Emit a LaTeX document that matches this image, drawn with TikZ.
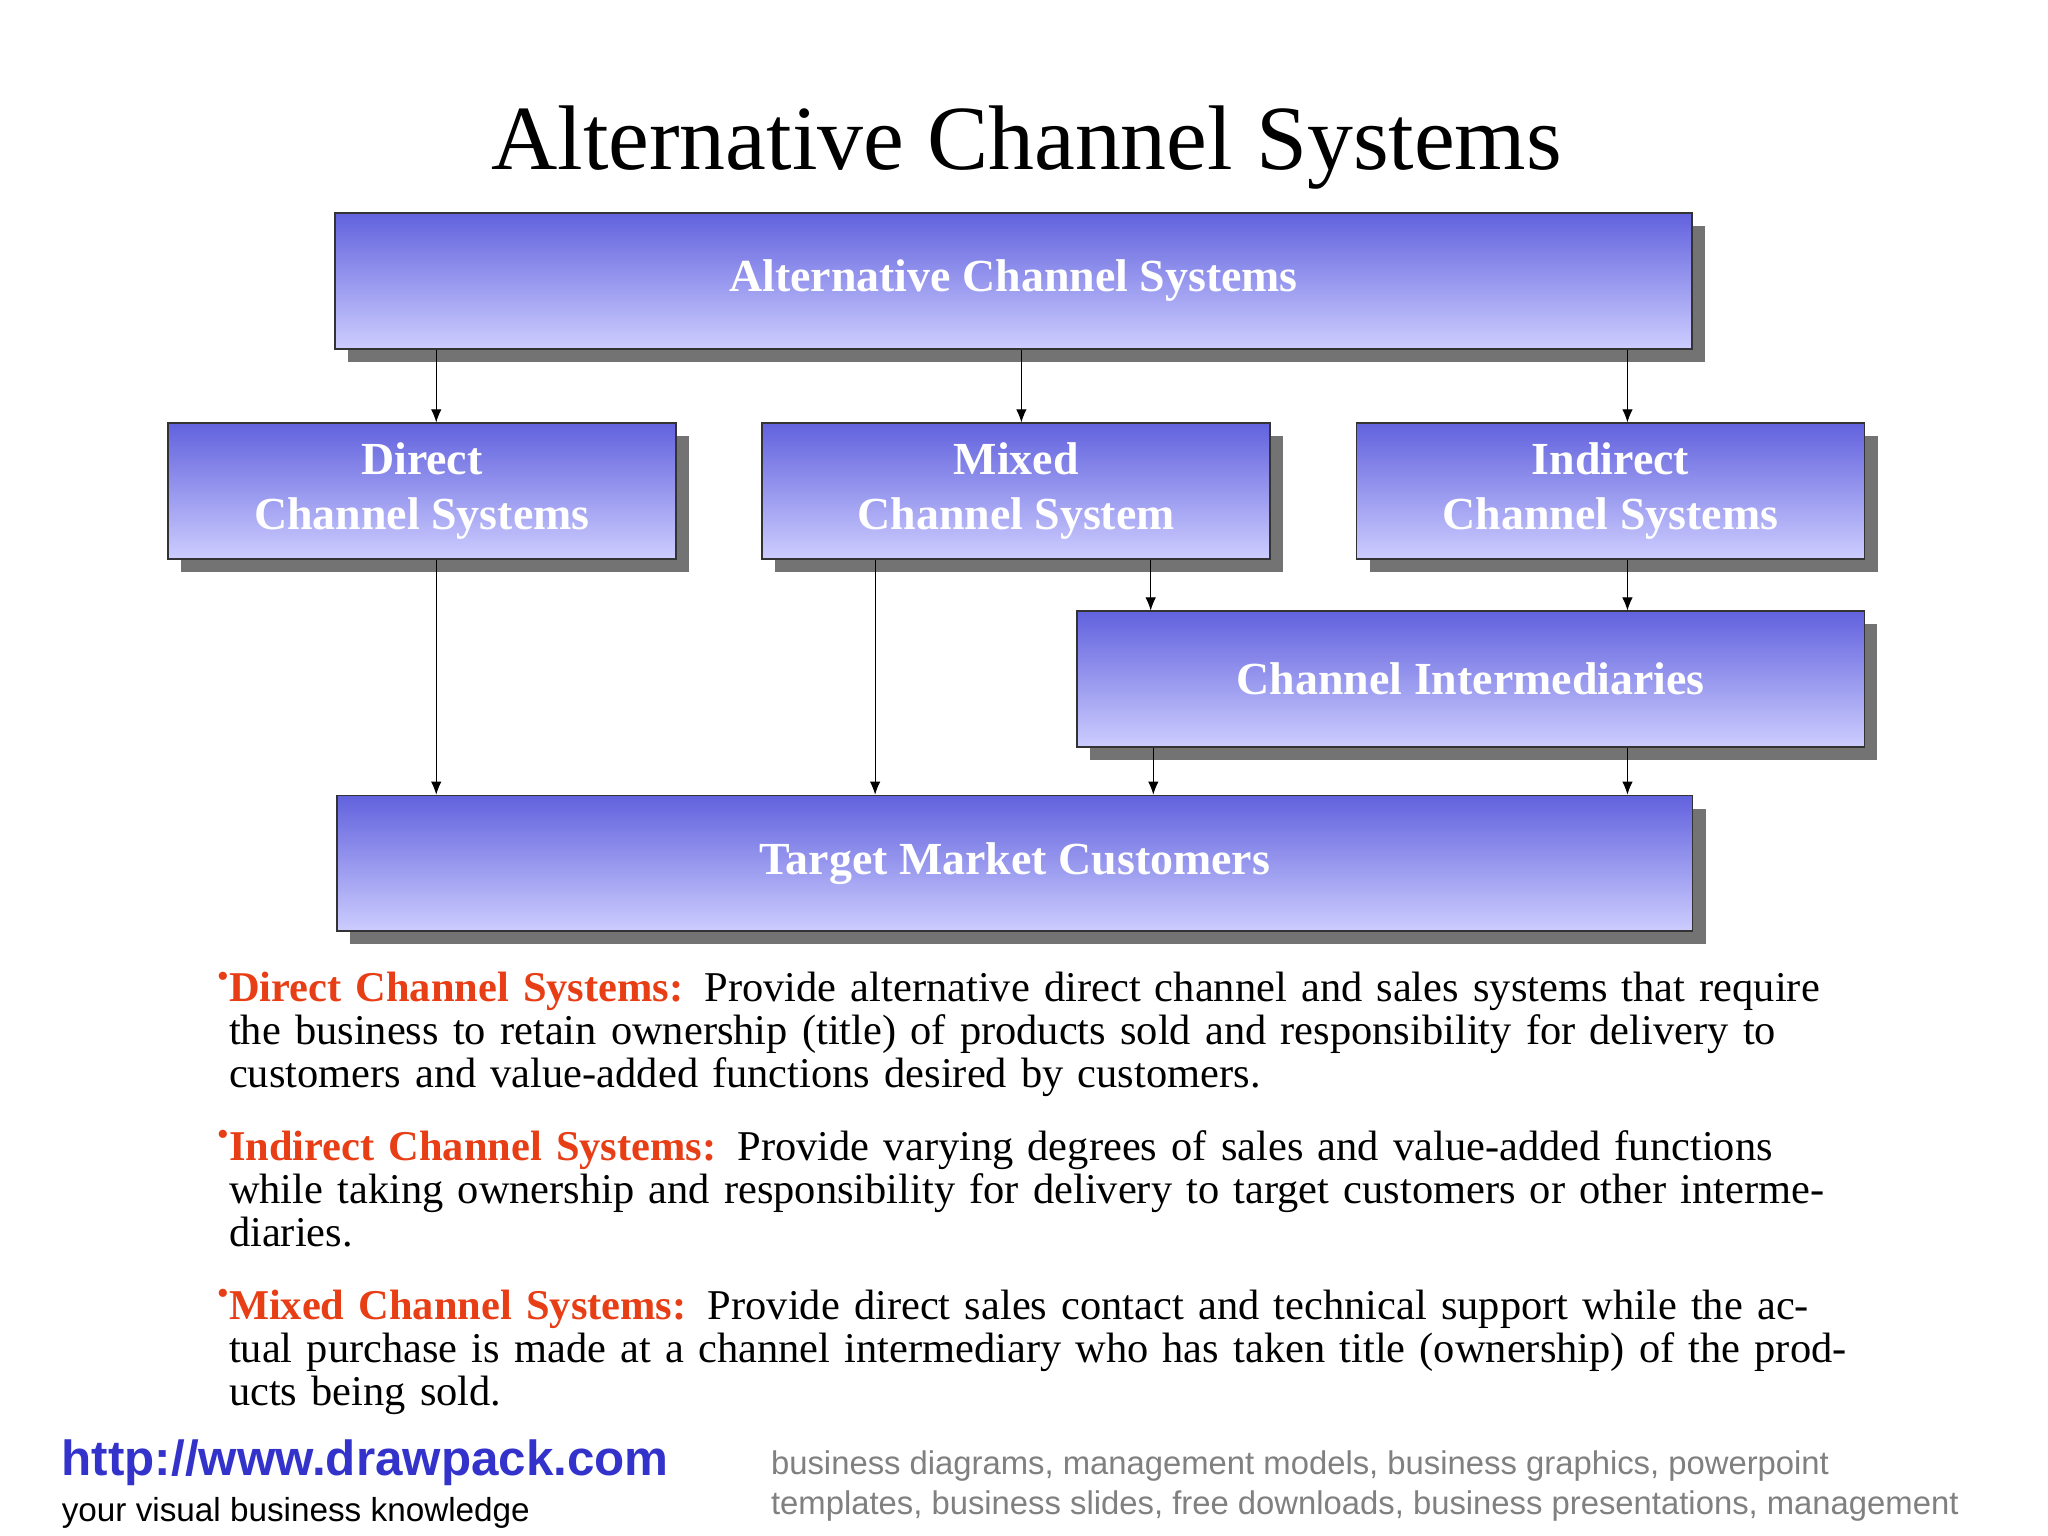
\documentclass[tikz,border=0pt]{standalone}
\usepackage{fontspec}
\setmainfont{Liberation Serif}
\newfontfamily\footsans{Liberation Sans}
\usetikzlibrary{arrows.meta,positioning,shadows}
\definecolor{boxtop}{RGB}{98,98,222}
\definecolor{boxbot}{RGB}{205,205,255}
\definecolor{keyred}{RGB}{232,62,22}
\definecolor{linkblue}{RGB}{51,51,204}
\definecolor{footgray}{RGB}{128,128,128}
\tikzset{
  >={Latex[width=1.6mm,length=2mm]},
  chbox/.style={draw=black!80, line width=0.7pt, top color=boxtop, bottom color=boxbot,
    font=\fontsize{20}{24}\selectfont\bfseries, text=white, align=center,
    drop shadow={shadow xshift=2mm, shadow yshift=-2mm, fill=black!55, opacity=1}},
  para/.style={anchor=north west, text width=24.9cm, align=left, inner sep=0pt,
    font=\fontsize{18.5}{18.8}\selectfont},
  dot/.style={anchor=north east, inner sep=0pt, text=keyred, font=\fontsize{18.5}{18.8}\selectfont},
}
\newcommand{\key}[1]{\textcolor{keyred}{\bfseries #1}}
\begin{document}
\begin{tikzpicture}[x=0.02cm,y=-0.02cm]
  \useasboundingbox[fill=white] (0,0) rectangle (1568,1176);
  \node[font=\fontsize{40}{44}\selectfont] (title) at (786,113) {Alternative Channel Systems};
  % boxes
  \node[chbox, minimum width=20.78cm, minimum height=2.08cm] (acs) at (776,215) {Alternative Channel Systems};
  \node[chbox, minimum width=7.78cm, minimum height=2.08cm] (dir) at (323,376) {Direct\\Channel Systems};
  \node[chbox, minimum width=7.78cm, minimum height=2.08cm] (mix) at (778,376) {Mixed\\Channel System};
  \node[chbox, minimum width=7.78cm, minimum height=2.08cm] (ind) at (1233,376) {Indirect\\Channel Systems};
  \node[chbox, minimum width=12.06cm, minimum height=2.08cm] (int) at (1126,520) {Channel Intermediaries};
  \node[chbox, minimum width=20.76cm, minimum height=2.08cm] (tmc) at (777,661) {Target Market Customers};
  % connectors
  \draw[->] (acs.south -| 334,0) -- (dir.north -| 334,0);
  \draw[->] (acs.south -| 782,0) -- (mix.north -| 782,0);
  \draw[->] (acs.south -| 1246,0) -- (ind.north -| 1246,0);
  \draw[->] (dir.south -| 334,0) -- (tmc.north -| 334,0);
  \draw[->] (mix.south -| 670,0) -- (tmc.north -| 670,0);
  \draw[->] (mix.south -| 881,0) -- (int.north -| 881,0);
  \draw[->] (ind.south -| 1246,0) -- (int.north -| 1246,0);
  \draw[->] (int.south -| 883,0) -- (tmc.north -| 883,0);
  \draw[->] (int.south -| 1246,0) -- (tmc.north -| 1246,0);
  % notes
  \node[para] (pdir) at (175,744) {\key{Direct Channel Systems:} Provide alternative direct channel and sales systems that require the business to retain ownership (title) of products sold and responsibility for delivery to customers and value-added functions desired by customers.};
  \node[para] (pind) at (175,865) {\key{Indirect Channel Systems:} Provide varying degrees of sales and value-added functions while taking ownership and responsibility for delivery to target customers or other intermediaries.};
  \node[para] (pmix) at (175,987) {\key{Mixed Channel Systems:} Provide direct sales contact and technical support while the actual purchase is made at a channel intermediary who has taken title (ownership) of the products being sold.};
  \node[dot] (bdir) at (pdir.north west) {$\scriptscriptstyle\bullet$};
  \node[dot] (bind) at (pind.north west) {$\scriptscriptstyle\bullet$};
  \node[dot] (bmix) at (pmix.north west) {$\scriptscriptstyle\bullet$};
  % footer
  \node[anchor=west, inner sep=0pt, text=linkblue, font=\footsans\fontsize{21.5}{24}\selectfont\bfseries] (url) at (47,1120) {http://www.drawpack.com};
  \node[anchor=west, inner sep=0pt, font=\footsans\fontsize{14.5}{16}\selectfont] (slogan) at (47,1158) {your visual business knowledge};
  \node[anchor=north west, inner sep=0pt, text=footgray, align=left, font=\footsans\fontsize{14.3}{17.5}\selectfont] (tags) at (590,1110) {business diagrams, management models, business graphics, powerpoint\\templates, business slides, free downloads, business presentations, management};
\end{tikzpicture}
\end{document}
